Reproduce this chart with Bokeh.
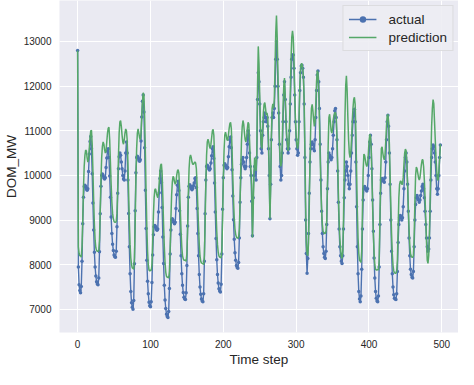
from bokeh.plotting import figure
from bokeh.models import Range1d, FixedTicker, Legend, LegendItem, ColumnDataSource
from bokeh.embed import file_html
from bokeh.resources import INLINE

actual = [
    12800, 7950, 7550, 7420,
    7370, 7510, 8080, 8920, 9510, 9750, 9780, 9750, 9700, 9670, 9700, 10090, 10480, 10760, 10870, 10600, 10040, 9380, 8780, 8280, 7950, 7750, 7620, 7570,
    7550, 7700, 8290, 9140, 9760, 10000, 10030, 10000, 9950, 9920, 9950, 10180, 10390, 10540, 10600, 10400, 9990, 9510, 9070, 8700, 8460, 8320, 8220, 8180,
    8170, 8300, 8850, 9600, 10150, 10420, 10500, 10450, 10300, 10150, 10000, 9920, 9900, 10100, 10500, 10750, 10500, 9900, 9150, 8400, 7800, 7400, 7150, 7050,
    7000, 7200, 8020, 9210, 10060, 10400, 10430, 10400, 10350, 10320, 10350, 10770, 11310, 11660, 11800, 11420, 10620, 9670, 8810, 8100, 7630, 7350, 7160, 7080,
    7060, 7170, 7600, 8220, 8670, 8850, 8880, 8850, 8800, 8770, 8800, 9180, 9610, 9930, 10100, 9840, 9280, 8620, 8030, 7540, 7210, 7020, 6890, 6840,
    6820, 6950, 7470, 8240, 8780, 9000, 9030, 9000, 8950, 8920, 8950, 9260, 9570, 9780, 9870, 9660, 9210, 8680, 8200, 7800, 7540, 7380, 7270, 7230,
    7220, 7370, 7980, 8870, 9510, 9760, 9790, 9760, 9710, 9680, 9710, 9770, 9830, 9930, 9950, 9730, 9260, 8700, 8200, 7780, 7500, 7340, 7230, 7190,
    7170, 7350, 8080, 9140, 9900, 10200, 10230, 10200, 10150, 10120, 10150, 10280, 10440, 10600, 10640, 10380, 9830, 9180, 8590, 8110, 7780, 7590, 7460, 7410,
    7390, 7560, 8240, 9240, 9950, 10230, 10260, 10230, 10180, 10150, 10180, 10420, 10640, 10800, 10860, 10620, 10130, 9540, 9010, 8570, 8270, 8100, 7980, 7940,
    7920, 8050, 8600, 9400, 9950, 10250, 10350, 10400, 10300, 10200,
    10150, 10200, 10400, 10700, 11000, 10900, 10500, 10200, 10000, 9420,
    8650, 9500, 10000, 10200, 10100, 9900, 10400, 11700, 12300, 12100,
    11600, 11000, 10600, 10500, 10900, 11200, 11300, 11400, 11300, 11200,
    11300, 11100, 10600, 10000, 9030, 9800, 10800, 11300, 11400, 11300,
    11500, 12000, 12600, 13000, 12600, 12000, 11400, 10700, 10200, 9900,
    10000, 10500, 11200, 11800, 12100, 11700, 11200, 10800, 10600, 10500,
    10600, 11000, 11600, 12200, 12600, 12700, 12700, 12400, 11800, 11200,
    10800, 10600, 10450, 10500, 11200, 11900, 12300, 12450, 12470, 12400,
    12200, 11600, 10400, 9000, 8250, 7810,
    8140, 8700, 9600, 10300, 10600, 10700, 10750, 10700, 10600, 10550, 10800, 11300, 11900, 12250, 12340, 12100, 11500, 10700, 9900, 9200, 8700, 8400, 8250, 8170,
    8140, 8300, 8900, 9700, 10300, 10500, 10450, 10400, 10350, 10400, 10600, 10900, 11200, 11450, 11500, 11300, 10800, 10100, 9400, 8800, 8400, 8200, 8080,
    8030, 8200, 8800, 9500, 9900, 10100, 10300, 10200, 10000, 9800, 9700, 9800, 10100, 10500, 10900, 11200, 11400, 11480, 11200, 10300, 9300, 8400, 7800, 7400, 7230,
    7170, 7300, 7900, 8800, 9450, 9700, 9750, 9720, 9680, 9650, 9700, 10000, 10400, 10750, 10900, 10700, 10150, 9450, 8750, 8150, 7700, 7400, 7250, 7190,
    7170, 7300, 7950, 8900, 9600, 9900, 9930, 9900, 9870, 9850, 9950, 10300, 10800, 11200, 11350, 11100, 10500, 9800, 9000, 8300, 7800, 7500, 7330, 7250, 7230,
    7220, 7350, 7850, 8500, 8900, 9050, 9100, 9080, 9000, 9050, 9300, 9700, 10100, 10400, 10500, 10300, 9800, 9200, 8600, 8200, 7900, 7780, 7720,
    7700, 7850, 8400, 9000, 9350, 9500, 9550, 9500, 9450, 9400, 9450, 9550, 9650, 9750, 9800, 9700, 9500, 9200, 8900, 8600, 8400, 8300,
    8350, 8600, 9200, 9900, 10400, 10600, 10680, 10650, 10500, 10300, 10000, 9700, 9580, 9700, 10000, 10400, 10680,
]

prediction = [
    12800, 8400, 8250, 8200,
    8200, 8170, 8400, 9000, 9700, 10200, 10450, 10570, 10550, 10400, 10300, 10350, 10600, 10850, 11000, 11010, 10700, 10100, 9450, 8900, 8550, 8380, 8320, 8300,
    8300, 8320, 8550, 9200, 9900, 10400, 10650, 10750, 10700, 10580, 10500, 10550, 10750, 10950, 11060, 11080, 10800, 10300, 9800, 9400, 9150, 9030, 8970, 8950,
    8950, 8970, 9150, 9700, 10400, 10950, 11200, 11230, 11100, 10900, 10750, 10700, 10800, 10950, 11040, 11000, 10800, 10300, 9600, 8950, 8450, 8150, 8000, 7930,
    7920, 7900, 8150, 8900, 9900, 10600, 10950, 11040, 10950, 10850, 10800, 10950, 11300, 11650, 11850, 11800, 11300, 10500, 9600, 8850, 8300, 8000, 7880, 7860,
    7880, 7870, 8000, 8500, 9100, 9500, 9680, 9700, 9620, 9550, 9500, 9600, 9850, 10100, 10230, 10260, 10050, 9500, 8900, 8400, 8050, 7830, 7740, 7720,
    7720, 7700, 7850, 8350, 9000, 9550, 9850, 9980, 9950, 9850, 9800, 9850, 10000, 10100, 10130, 10050, 9700, 9200, 8750, 8400, 8200, 8130, 8100, 8100,
    8100, 8080, 8250, 8800, 9600, 10150, 10400, 10460, 10400, 10300, 10250, 10250, 10280, 10300, 10280, 10150, 9800, 9300, 8850, 8450, 8200, 8080, 8040, 8030,
    8030, 8000, 8200, 8900, 9800, 10450, 10750, 10810, 10750, 10650, 10600, 10700, 10850, 11000, 11030, 10900, 10400, 9800, 9200, 8750, 8450, 8280, 8200, 8170,
    8170, 8150, 8350, 9000, 9900, 10550, 10900, 10970, 10900, 10800, 10780, 10900, 11050, 11160, 11190, 11050, 10600, 10000, 9450, 9050, 8800, 8680, 8620, 8600,
    8600, 8620, 8800, 9400, 10200, 10800, 11100, 11230, 11150, 10950,
    10800, 10750, 10850, 11050, 11190, 11150, 10800, 10400, 10100, 9800,
    8610, 9200, 10000, 10400, 10300, 10100, 10500, 12000, 12890, 12500,
    11800, 11100, 10700, 10600, 11000, 11400, 11600, 11630, 11500, 11350,
    11400, 11300, 10800, 10100, 9030, 9700, 10900, 11500, 11600, 11500,
    11700, 12400, 13200, 13580, 13100, 12300, 11500, 10800, 10350, 10200,
    10300, 10800, 11500, 12000, 12180, 11800, 11300, 10900, 10700, 10550,
    10700, 11200, 11900, 12600, 13100, 13240, 13100, 12600, 11900, 11300,
    10900, 10700, 10600, 10700, 11300, 12000, 12400, 12500, 12500, 12400,
    12200, 11700, 10600, 9400, 8500, 8250,
    8200, 8500, 9300, 10300, 11100, 11500, 11590, 11450, 11250, 11100, 11200, 11600, 12100, 12350, 12300, 11900, 11200, 10400, 9700, 9200, 8900, 8750, 8720, 8700,
    8700, 8750, 9000, 9800, 10700, 11300, 11370, 11200, 11000, 10950, 11050, 11250, 11350, 11400, 11410, 11300, 10900, 10300, 9600, 9000, 8600, 8350, 8200,
    8140, 8300, 9000, 10200, 11300, 12000, 12230, 11900, 11300, 10800, 10500, 10400, 10500, 10800, 11200, 11500, 11700, 11750, 11600, 11000, 10100, 9200, 8600, 8250, 8100,
    8080, 8050, 8300, 9200, 10100, 10480, 10450, 10350, 10250, 10200, 10250, 10450, 10750, 10920, 10900, 10600, 10000, 9300, 8700, 8250, 8000, 7900, 7880, 7880,
    7900, 7880, 8100, 9000, 10000, 10600, 10640, 10500, 10400, 10350, 10450, 10750, 11100, 11330, 11370, 11200, 10700, 10000, 9300, 8700, 8250, 7980, 7860, 7820, 7810,
    7810, 7850, 8100, 8800, 9500, 9800, 9870, 9870, 9800, 9800, 9950, 10250, 10500, 10590, 10550, 10300, 9800, 9300, 8800, 8450, 8250, 8180, 8170,
    8170, 8200, 8600, 9400, 10000, 10190, 10150, 10050, 9950, 9900, 9950, 10100, 10250, 10350, 10350, 10200, 9900, 9500, 9000, 8500, 8100, 8030,
    8200, 8700, 9500, 10400, 11100, 11500, 11700, 11600, 11200, 10800, 10400, 10100, 9900, 9900, 10100, 10400, 10700,
]

x_ticks = [0, 100, 200, 300, 400, 500]
y_ticks = [7000, 8000, 9000, 10000, 11000, 12000, 13000]

series_names = ["actual", "prediction"]
x_label = "Time step"
y_label = "DOM_MW"

FONT = "Liberation Sans"
TEXT = "#262626"
BLUE = "#4C72B0"
GREEN = "#55A868"

src_a = ColumnDataSource(dict(x=list(range(len(actual))), y=actual))
src_p = ColumnDataSource(dict(x=list(range(len(prediction))), y=prediction))

n = max(len(actual), len(prediction)) - 1
ymin = min(min(actual), min(prediction))
ymax = max(max(actual), max(prediction))
ypad = 0.05 * (ymax - ymin)

p = figure(width=458, height=369, output_backend="svg", toolbar_location=None,
           x_range=Range1d(-0.05 * n, 1.05 * n),
           y_range=Range1d(ymin - ypad, ymax + ypad),
           min_border_left=54, min_border_right=0, min_border_top=0, min_border_bottom=35,
           background_fill_color="#EAEAF2", border_fill_color="white",
           outline_line_color=None)

p.xgrid.grid_line_color = "white"
p.ygrid.grid_line_color = "white"
p.xgrid.grid_line_width = 1
p.ygrid.grid_line_width = 1

p.xaxis.ticker = FixedTicker(ticks=x_ticks)
p.yaxis.ticker = FixedTicker(ticks=y_ticks)

for ax in (p.xaxis, p.yaxis):
    ax.axis_line_color = None
    ax.major_tick_line_color = None
    ax.minor_tick_line_color = None
    ax.major_tick_out = 0
    ax.major_tick_in = 0
    ax.minor_tick_out = 0
    ax.major_label_text_font = FONT
    ax.major_label_text_font_size = "10px"
    ax.major_label_text_color = TEXT
    ax.axis_label_text_font = FONT
    ax.axis_label_text_font_style = "normal"
    ax.axis_label_text_color = TEXT

p.xaxis.axis_label = x_label
p.yaxis.axis_label = y_label
p.xaxis.axis_label_text_font_size = "13.5px"
p.yaxis.axis_label_text_font_size = "13.5px"
p.xaxis.major_label_standoff = 7
p.yaxis.major_label_standoff = 8
p.xaxis.axis_label_standoff = 1
p.yaxis.axis_label_standoff = 2

la = p.line("x", "y", source=src_a, line_color=BLUE, line_width=1.4)
sa = p.scatter("x", "y", source=src_a, size=3.5, fill_color=BLUE, line_color=None)
lp = p.line("x", "y", source=src_p, line_color=GREEN, line_width=1.5)

legend = Legend(items=[LegendItem(label=series_names[0], renderers=[la, sa]),
                       LegendItem(label=series_names[1], renderers=[lp])],
                location="top_right")
legend.label_text_font = FONT
legend.label_text_font_size = "13.5px"
legend.label_text_color = TEXT
legend.glyph_width = 28
legend.glyph_height = 16
legend.label_height = 16
legend.label_standoff = 12
legend.spacing = 2
legend.padding = 5
legend.margin = 5
legend.background_fill_color = "#EDEDF3"
legend.background_fill_alpha = 0.9
legend.border_line_color = "#CCCCCC"
legend.border_line_width = 1
p.add_layout(legend)

open("out.html", "w").write(file_html(p, INLINE))
